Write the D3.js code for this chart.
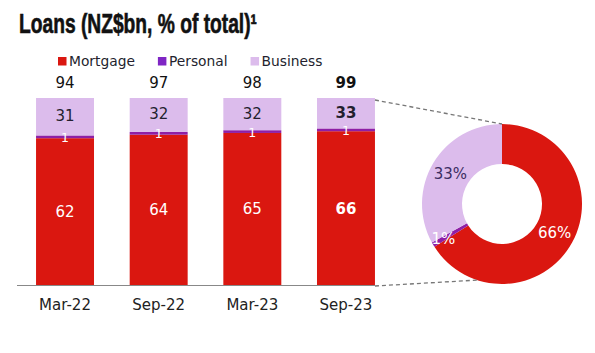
<!DOCTYPE html>
<html><head><meta charset="utf-8">
<script src="https://cdn.jsdelivr.net/npm/d3@7"></script>
<style>body{margin:0;background:#fff}svg{display:block}</style>
</head><body>
<svg id="c" width="595" height="353"></svg>
<script>
const categories = ["Mar-22","Sep-22","Mar-23","Sep-23"];
const mortgage = [62,64,65,66];
const personal = [1,1,1,1];
const business = [31,32,32,33];
const totals = [94,97,98,99];
const seriesNames = ["Mortgage","Personal","Business"];
const donutLabels = ["66%","1%","33%"];
const donutValues = [66,1,33];

(function(){
const colors = {Mortgage:"#da1710", Personal:"#7f26c4", Business:"#dcbcec"};
const barPurple = "#8e1fa6";
const textDark = "#231f2e";
const font = "'DejaVu Sans', sans-serif";

const svg = d3.select("#c");

// Title
svg.append("text").attr("x",19).attr("y",33)
  .attr("font-family","'Liberation Sans Narrow','Liberation Sans',sans-serif")
  .attr("font-weight","bold").attr("font-size",27).attr("fill","#111")
  .attr("stroke","#111").attr("stroke-width",0.6)
  .attr("textLength",238).attr("lengthAdjust","spacingAndGlyphs")
  .text("Loans (NZ$bn, % of total)\u00B9");

// Legend
let lx = 58;
seriesNames.forEach((n,i)=>{
  const g = svg.append("g");
  g.append("rect").attr("x",lx).attr("y",57).attr("width",8.5).attr("height",8.5)
   .attr("fill", colors[n]);
  const t = g.append("text").attr("x",lx+11).attr("y",66)
   .attr("font-family",font).attr("font-size",13.8).attr("fill",textDark).text(n);
  lx += 11 + t.node().getComputedTextLength() + 23;
});

// Scales
const x = d3.scaleBand().domain(categories).range([18.2,392.8]).paddingInner(0.381).paddingOuter(0.1905);
const y = d3.scaleLinear().domain([-22,85]).range([285,98]);
const yBase = y.range()[0], yTop = y.range()[1];
const bw = x.bandwidth();

categories.forEach((c,i)=>{
  const x0 = x(c);
  const bold = i===categories.length-1 ? "bold" : "normal";
  const yM = y(mortgage[i]), yP = y(mortgage[i]+personal[i]) - 1;
  svg.append("rect").attr("x",x0).attr("y",yM).attr("width",bw).attr("height",yBase-yM).attr("fill",colors.Mortgage);
  svg.append("rect").attr("x",x0).attr("y",yP).attr("width",bw).attr("height",yM-yP).attr("fill",barPurple);
  svg.append("rect").attr("x",x0).attr("y",yTop).attr("width",bw).attr("height",yP-yTop).attr("fill",colors.Business);
  const cx = x0+bw/2;
  const lbl = (yy,txt,fill,fs,w)=>svg.append("text").attr("x",cx).attr("y",yy+fs*0.36)
     .attr("text-anchor","middle").attr("font-family",font).attr("font-size",fs)
     .attr("font-weight",w||bold).attr("fill",fill).text(txt);
  lbl((yM+yBase)/2, mortgage[i], "#fff", 15);
  lbl((yP+yM)/2+0.5, personal[i], "#fff", 12.5, "normal");
  lbl((yTop+yP)/2-1, business[i], textDark, 15);
  lbl(yTop-15, totals[i], "#111", 15);
  svg.append("text").attr("x",cx).attr("y",yBase+25).attr("text-anchor","middle")
    .attr("font-family",font).attr("font-size",15).attr("fill","#222").text(c);
});

// Axis line
svg.append("line").attr("x1",17).attr("x2",x(categories[3])+bw).attr("y1",yBase+0.5).attr("y2",yBase+0.5)
  .attr("stroke","#888").attr("stroke-width",1.2);

// Donut
const dcx = 502, dcy = 204, R = 80, r = 40;
const pie = d3.pie().sort(null)(donutValues);
const arc = d3.arc().innerRadius(r).outerRadius(R);
const dg = svg.append("g").attr("transform",`translate(${dcx},${dcy})`);
const dcols = [colors.Mortgage, barPurple, colors.Business];
dg.selectAll("path").data(pie).join("path").attr("d",arc).attr("fill",(d,i)=>dcols[i]);
const smallArc = d3.arc().innerRadius(r+10).outerRadius(R+6);
dg.selectAll("text").data(pie).join("text")
  .attr("transform",(d,i)=>{const c = (i===1?smallArc:arc).centroid(d); return `translate(${c[0]},${c[1]+5.5})`;})
  .attr("text-anchor","middle").attr("font-family",font).attr("font-size",15)
  .attr("fill",(d,i)=>i===2?"#3b2d63":"#fff").text((d,i)=>donutLabels[i]);

// Dashed connectors
const xr = x(categories[3])+bw;
const pt = a => [dcx + R*Math.sin(a), dcy - R*Math.cos(a)];
const pTop = pt(0), pBot = pt(198*Math.PI/180);
svg.append("line").attr("x1",xr).attr("y1",yTop+2).attr("x2",pTop[0]).attr("y2",pTop[1])
  .attr("stroke","#777").attr("stroke-width",1.3).attr("stroke-dasharray","4,3");
svg.append("line").attr("x1",xr).attr("y1",yBase+1).attr("x2",pBot[0]).attr("y2",pBot[1])
  .attr("stroke","#777").attr("stroke-width",1.3).attr("stroke-dasharray","4,3");
})();
</script>
</body></html>
